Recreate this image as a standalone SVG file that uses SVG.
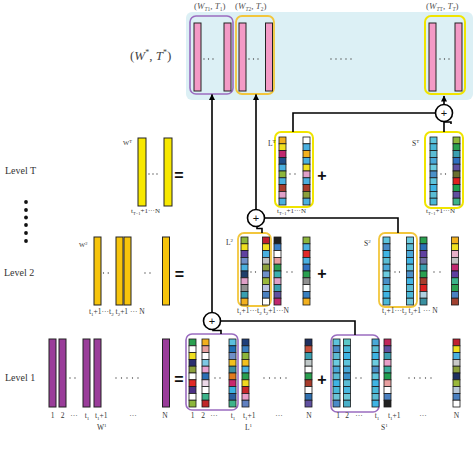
<svg xmlns="http://www.w3.org/2000/svg" xmlns:xlink="http://www.w3.org/1999/xlink" width="474" height="451" viewBox="0 0 474 451">
<style>
text{font-family:"Liberation Serif","DejaVu Serif",serif;fill:#333}
.lv{font-size:10px}
.lb{font-size:7.5px;text-anchor:middle}
.ls{font-size:7.5px}
.tl{font-size:9px;fill:#555}
.sym{font-family:"Liberation Sans","DejaVu Sans",sans-serif;font-size:16px;font-weight:bold;fill:#111;text-anchor:middle}
.pl{font-family:"Liberation Sans","DejaVu Sans",sans-serif;font-size:11px;fill:#111;text-anchor:middle}
.bp{fill:#f39ac6;stroke:#222;stroke-width:1}
.by{fill:#f7e800;stroke:#222;stroke-width:1}
.bg{fill:#f6c40c;stroke:#222;stroke-width:1}
.bu{fill:#9a3d9a;stroke:#222;stroke-width:1}
.xp{fill:none;stroke:#9a6cc0;stroke-width:1.6}
.xy{fill:none;stroke:#f0e400;stroke-width:2}
.xg{fill:none;stroke:#f2c63c;stroke-width:1.8}
.dl{stroke:#444;stroke-width:1.3;stroke-linecap:round;stroke-dasharray:0 4.5;fill:none}
.cn{fill:none;stroke:#000;stroke-width:1.6}
.ci{fill:#fff;stroke:#000;stroke-width:1.6}
</style>
<defs>
<rect id="k" width="7" height="6.8" stroke="#1a1a1a" stroke-width="0.8"/>
<marker id="ah" viewBox="0 0 10 10" refX="9" refY="5" markerWidth="8" markerHeight="6" orient="auto" markerUnits="userSpaceOnUse"><path d="M0,0 L10,5 L0,10 z" fill="#000"/></marker>
</defs>

<g id="result-panel">
<rect x="186" y="12" width="287" height="88" rx="6" fill="#dcf0f5"/>
<text x="130" y="60" style="font-size:13px;fill:#444">(<tspan font-style="italic">W</tspan><tspan font-size="8" dy="-5">*</tspan><tspan dy="5">, </tspan><tspan font-style="italic">T</tspan><tspan font-size="8" dy="-5">*</tspan><tspan dy="5">)</tspan></text>
<g id="top-1">
<rect class="xp" x="190" y="16" width="43" height="78" rx="6"/>
<rect class="bp" x="194" y="23" width="7" height="68"/>
<rect class="bp" x="224" y="23" width="7" height="68"/>
<line class="dl" x1="204" y1="59" x2="217.5" y2="59"/>
<text class="tl" x="194" y="9">(<tspan font-style="italic">W</tspan><tspan font-size="5.5" dy="2"><tspan font-style="italic">T</tspan>1</tspan><tspan dy="-2">, </tspan><tspan font-style="italic">T</tspan><tspan font-size="5.5" dy="2">1</tspan><tspan dy="-2">)</tspan></text>
</g>
<g id="top-2">
<rect class="xg" x="236" y="16" width="38" height="78" rx="6"/>
<rect class="bp" x="239" y="23" width="7" height="68"/>
<rect class="bp" x="265.5" y="23" width="7" height="68"/>
<line class="dl" x1="249" y1="59" x2="262.5" y2="59"/>
<text class="tl" x="235" y="9">(<tspan font-style="italic">W</tspan><tspan font-size="5.5" dy="2"><tspan font-style="italic">T</tspan>2</tspan><tspan dy="-2">, </tspan><tspan font-style="italic">T</tspan><tspan font-size="5.5" dy="2">2</tspan><tspan dy="-2">)</tspan></text>
</g>
<line class="dl" x1="331" y1="59" x2="356" y2="59" style="stroke-dasharray:0 5"/>
<g id="top-T">
<rect class="xy" x="425" y="16" width="40" height="78" rx="6"/>
<rect class="bp" x="429" y="23" width="7" height="68"/>
<rect class="bp" x="455" y="23" width="7" height="68"/>
<line class="dl" x1="440" y1="59" x2="453.5" y2="59"/>
<text class="tl" x="426" y="9">(<tspan font-style="italic">W</tspan><tspan font-size="5.5" dy="2"><tspan font-style="italic">T</tspan>T</tspan><tspan dy="-2">, </tspan><tspan font-style="italic">T</tspan><tspan font-size="5.5" dy="2"><tspan font-style="italic">T</tspan></tspan><tspan dy="-2">)</tspan></text>
</g>
</g>

<g id="level-labels">
<text class="lv" x="5" y="174">Level  T</text>
<text class="lv" x="4" y="276">Level  2</text>
<text class="lv" x="5" y="381">Level  1</text>
<g fill="#111"><circle cx="26" cy="202" r="1.9"/><circle cx="26" cy="210" r="1.9"/><circle cx="26" cy="217.5" r="1.9"/><circle cx="26" cy="225" r="1.9"/><circle cx="26" cy="233" r="1.9"/><circle cx="26" cy="241" r="1.9"/></g>
</g>

<g id="WT">
<rect class="by" x="138" y="138" width="8" height="68"/>
<rect class="by" x="164" y="138" width="8" height="68"/>
<line class="dl" x1="149" y1="174" x2="161" y2="174" style="stroke-dasharray:0 4"/>
<text class="sym" x="179" y="181">=</text>
<text class="ls" x="123" y="145" style="font-size:6.5px">W<tspan font-size="4.5" dy="-2.5">T</tspan></text>
<text class="ls" x="131" y="213" style="font-size:7px">t<tspan font-size="4.5" dy="1.5">T−1</tspan><tspan dy="-1.5">+1···N</tspan></text>
</g>

<g id="W2">
<rect class="bg" x="94" y="237" width="7" height="68"/>
<rect class="bg" x="116" y="237" width="7" height="68"/>
<rect class="bg" x="124" y="237" width="7" height="68"/>
<rect class="bg" x="162.5" y="237" width="7" height="68"/>
<line class="dl" x1="103.5" y1="273" x2="113" y2="273" style="stroke-dasharray:0 4.75"/>
<line class="dl" x1="145" y1="273" x2="155" y2="273" style="stroke-dasharray:0 5"/>
<text class="sym" x="179.5" y="280">=</text>
<text class="ls" x="79" y="247" style="font-size:6.5px">W<tspan font-size="4.5" dy="-2.5">2</tspan></text>
<text class="ls" x="89" y="314">t<tspan font-size="5" dy="1.5">1</tspan><tspan dy="-1.5">+1···t</tspan><tspan font-size="5" dy="1.5">2</tspan><tspan dy="-1.5"> t</tspan><tspan font-size="5" dy="1.5">2</tspan><tspan dy="-1.5">+1  ···  N</tspan></text>
</g>

<g id="W1">
<rect class="bu" x="49" y="339" width="7" height="68"/>
<rect class="bu" x="59" y="339" width="7" height="68"/>
<rect class="bu" x="83" y="339" width="7" height="68"/>
<rect class="bu" x="94" y="339" width="7" height="68"/>
<rect class="bu" x="162.5" y="339" width="7" height="68"/>
<line class="dl" x1="70" y1="378" x2="80" y2="378" style="stroke-dasharray:0 5"/>
<line class="dl" x1="116" y1="378" x2="143.5" y2="378" style="stroke-dasharray:0 5.5"/>
<text class="sym" x="179" y="385">=</text>
<text class="lb" x="52.5" y="418">1</text>
<text class="lb" x="62.5" y="418">2</text>
<text class="lb" x="74" y="418">···</text>
<text class="lb" x="87" y="418">t<tspan font-size="5" dy="1.5">1</tspan></text>
<text class="ls" x="95" y="418">t<tspan font-size="5" dy="1.5">1</tspan><tspan dy="-1.5">+1</tspan></text>
<text class="lb" x="133" y="418">···</text>
<text class="lb" x="165" y="418">N</text>
<text class="ls" x="97" y="430">W<tspan font-size="5" dy="-3">1</tspan></text>
</g>

<g id="L1">
<rect class="xp" x="186" y="334" width="52" height="76" rx="6"/>
<g transform="translate(189,339)"><use href="#k" fill="#2aa050"/><use href="#k" y="6.8" fill="#fff"/><use href="#k" y="13.6" fill="#f0e020"/><use href="#k" y="20.4" fill="#2a2f70"/><use href="#k" y="27.2" fill="#8ba03c"/><use href="#k" y="34" fill="#fff"/><use href="#k" y="40.8" fill="#e02828"/><use href="#k" y="47.6" fill="#4b2e83"/><use href="#k" y="54.4" fill="#fff"/><use href="#k" y="61.2" fill="#8db63c"/></g>
<g transform="translate(202,339)"><use href="#k" fill="#f2b01e"/><use href="#k" y="6.8" fill="#e6a0a0"/><use href="#k" y="13.6" fill="#fff"/><use href="#k" y="20.4" fill="#7ec8e3"/><use href="#k" y="27.2" fill="#e8a0d0"/><use href="#k" y="34" fill="#2a6fb5"/><use href="#k" y="40.8" fill="#ecd8e8"/><use href="#k" y="47.6" fill="#fff"/><use href="#k" y="54.4" fill="#3cb38a"/><use href="#k" y="61.2" fill="#c0282a"/></g>
<line class="dl" x1="215" y1="378" x2="225" y2="378" style="stroke-dasharray:0 5"/>
<g transform="translate(229,339)"><use href="#k" fill="#5bc0de"/><use href="#k" y="6.8" fill="#1f6fb5"/><use href="#k" y="13.6" fill="#6f8fc8"/><use href="#k" y="20.4" fill="#f2c01e"/><use href="#k" y="27.2" fill="#3b8fa0"/><use href="#k" y="34" fill="#e07a1e"/><use href="#k" y="40.8" fill="#c8286e"/><use href="#k" y="47.6" fill="#3ab0e0"/><use href="#k" y="54.4" fill="#2a5fa0"/><use href="#k" y="61.2" fill="#3cb38a"/></g>
<g transform="translate(242,339)"><use href="#k" fill="#1f3f7a"/><use href="#k" y="6.8" fill="#3b7fc0"/><use href="#k" y="13.6" fill="#8db63c"/><use href="#k" y="20.4" fill="#f2c01e"/><use href="#k" y="27.2" fill="#4ab0e0"/><use href="#k" y="34" fill="#2aa050"/><use href="#k" y="40.8" fill="#f0d820"/><use href="#k" y="47.6" fill="#c8282a"/><use href="#k" y="54.4" fill="#e8a0c8"/><use href="#k" y="61.2" fill="#6080c0"/></g>
<line class="dl" x1="264" y1="378" x2="291.5" y2="378" style="stroke-dasharray:0 5.5"/>
<g transform="translate(305,339)"><use href="#k" fill="#1f3060"/><use href="#k" y="6.8" fill="#c8503c"/><use href="#k" y="13.6" fill="#3ba0b0"/><use href="#k" y="20.4" fill="#c0c8c8"/><use href="#k" y="27.2" fill="#fff"/><use href="#k" y="34" fill="#2aa050"/><use href="#k" y="40.8" fill="#a83c2c"/><use href="#k" y="47.6" fill="#fff"/><use href="#k" y="54.4" fill="#3070b0"/><use href="#k" y="61.2" fill="#6050a0"/></g>
<text class="lb" x="192.5" y="418">1</text>
<text class="lb" x="203" y="418">2</text>
<text class="lb" x="214" y="418">···</text>
<text class="lb" x="233" y="418">t<tspan font-size="5" dy="1.5">1</tspan></text>
<text class="ls" x="243" y="418">t<tspan font-size="5" dy="1.5">1</tspan><tspan dy="-1.5">+1</tspan></text>
<text class="lb" x="279" y="418">···</text>
<text class="lb" x="309" y="418">N</text>
<text class="ls" x="245" y="430">L<tspan font-size="5" dy="-3">1</tspan></text>
<text class="sym" x="322" y="385">+</text>
</g>

<g id="S1">
<rect class="xp" x="331" y="335" width="48" height="77" rx="6"/>
<g transform="translate(333,339)"><use href="#k" fill="#5ec4dc"/><use href="#k" y="6.8" fill="#4a8cc8"/><use href="#k" y="13.6" fill="#5bbcd4"/><use href="#k" y="20.4" fill="#6ccce0"/><use href="#k" y="27.2" fill="#4aa8d8"/><use href="#k" y="34" fill="#5bbcd4"/><use href="#k" y="40.8" fill="#3fb4e4"/><use href="#k" y="47.6" fill="#4ab8d8"/><use href="#k" y="54.4" fill="#6cc4d8"/><use href="#k" y="61.2" fill="#4a8cc8"/></g>
<g transform="translate(343.5,339)"><use href="#k" fill="#5bc8c8"/><use href="#k" y="6.8" fill="#4ab8d8"/><use href="#k" y="13.6" fill="#3fb4e4"/><use href="#k" y="20.4" fill="#5ec4dc"/><use href="#k" y="27.2" fill="#4aa8d8"/><use href="#k" y="34" fill="#3a90c8"/><use href="#k" y="40.8" fill="#5bbcd4"/><use href="#k" y="47.6" fill="#4ab8e0"/><use href="#k" y="54.4" fill="#6cc8d8"/><use href="#k" y="61.2" fill="#4ab0c8"/></g>
<line class="dl" x1="356" y1="378" x2="366" y2="378" style="stroke-dasharray:0 5"/>
<g transform="translate(372,339)"><use href="#k" fill="#4aa8d8"/><use href="#k" y="6.8" fill="#5bbcd4"/><use href="#k" y="13.6" fill="#3fb4e4"/><use href="#k" y="20.4" fill="#6ccce0"/><use href="#k" y="27.2" fill="#4a90c8"/><use href="#k" y="34" fill="#5ec4dc"/><use href="#k" y="40.8" fill="#3fb4e4"/><use href="#k" y="47.6" fill="#4ab8d8"/><use href="#k" y="54.4" fill="#5bbcd4"/><use href="#k" y="61.2" fill="#3fb4e4"/></g>
<g transform="translate(384,339)"><use href="#k" fill="#c0285a"/><use href="#k" y="6.8" fill="#6050a0"/><use href="#k" y="13.6" fill="#3ba0b0"/><use href="#k" y="20.4" fill="#e8a0c8"/><use href="#k" y="27.2" fill="#3bb0a0"/><use href="#k" y="34" fill="#1fa050"/><use href="#k" y="40.8" fill="#e8a0a0"/><use href="#k" y="47.6" fill="#fff"/><use href="#k" y="54.4" fill="#4a80c0"/><use href="#k" y="61.2" fill="#222"/></g>
<line class="dl" x1="409" y1="378" x2="436.5" y2="378" style="stroke-dasharray:0 5.5"/>
<g transform="translate(453,339)"><use href="#k" fill="#c02030"/><use href="#k" y="6.8" fill="#f0e020"/><use href="#k" y="13.6" fill="#4ab0e0"/><use href="#k" y="20.4" fill="#c8c8c8"/><use href="#k" y="27.2" fill="#8ba03c"/><use href="#k" y="34" fill="#1f3060"/><use href="#k" y="40.8" fill="#9ab83c"/><use href="#k" y="47.6" fill="#b8c8d8"/><use href="#k" y="54.4" fill="#4a80c0"/><use href="#k" y="61.2" fill="#fff"/></g>
<text class="lb" x="338" y="418">1</text>
<text class="lb" x="347" y="418">2</text>
<text class="lb" x="359" y="418">···</text>
<text class="lb" x="377" y="418">t<tspan font-size="5" dy="1.5">1</tspan></text>
<text class="ls" x="388" y="418">t<tspan font-size="5" dy="1.5">1</tspan><tspan dy="-1.5">+1</tspan></text>
<text class="lb" x="423" y="418">···</text>
<text class="lb" x="456.5" y="418">N</text>
<text class="ls" x="381" y="430">S<tspan font-size="5" dy="-3">1</tspan></text>
</g>

<g id="L2">
<rect class="xg" x="238" y="233" width="33" height="73" rx="6"/>
<g transform="translate(241,237)"><use href="#k" fill="#8db63c"/><use href="#k" y="6.8" fill="#f0e020"/><use href="#k" y="13.6" fill="#6040a0"/><use href="#k" y="20.4" fill="#6f8fc8"/><use href="#k" y="27.2" fill="#4ab0e0"/><use href="#k" y="34" fill="#1f3f6a"/><use href="#k" y="40.8" fill="#e0a0c8"/><use href="#k" y="47.6" fill="#909090"/><use href="#k" y="54.4" fill="#3a9fb0"/><use href="#k" y="61.2" fill="#f2b01e"/></g>
<line class="dl" x1="251" y1="272" x2="260" y2="272"/>
<g transform="translate(262.5,237)"><use href="#k" fill="#c02030"/><use href="#k" y="6.8" fill="#f0e020"/><use href="#k" y="13.6" fill="#4ab0e0"/><use href="#k" y="20.4" fill="#c0c0c0"/><use href="#k" y="27.2" fill="#8ba03c"/><use href="#k" y="34" fill="#6f8fc8"/><use href="#k" y="40.8" fill="#9ab83c"/><use href="#k" y="47.6" fill="#b8c0e0"/><use href="#k" y="54.4" fill="#4a80c0"/><use href="#k" y="61.2" fill="#fff"/></g>
<g transform="translate(274,237)"><use href="#k" fill="#202020"/><use href="#k" y="6.8" fill="#3b80c8"/><use href="#k" y="13.6" fill="#fff"/><use href="#k" y="20.4" fill="#e8a0a0"/><use href="#k" y="27.2" fill="#2aa050"/><use href="#k" y="34" fill="#3bb0b0"/><use href="#k" y="40.8" fill="#e0a0c8"/><use href="#k" y="47.6" fill="#3ba0b0"/><use href="#k" y="54.4" fill="#6050a0"/><use href="#k" y="61.2" fill="#c0286e"/></g>
<line class="dl" x1="287" y1="272" x2="297" y2="272" style="stroke-dasharray:0 5"/>
<g transform="translate(303,237)"><use href="#k" fill="#8db63c"/><use href="#k" y="6.8" fill="#4ab0e0"/><use href="#k" y="13.6" fill="#e02828"/><use href="#k" y="20.4" fill="#4ab0e0"/><use href="#k" y="27.2" fill="#3070c0"/><use href="#k" y="34" fill="#2aa050"/><use href="#k" y="40.8" fill="#909090"/><use href="#k" y="47.6" fill="#fff"/><use href="#k" y="54.4" fill="#3a80c0"/><use href="#k" y="61.2" fill="#f2b01e"/></g>
<text class="ls" x="226" y="245">L<tspan font-size="5" dy="-3">2</tspan></text>
<text class="ls" x="237" y="313">t<tspan font-size="5" dy="1.5">1</tspan><tspan dy="-1.5">+1···t</tspan><tspan font-size="5" dy="1.5">2</tspan><tspan dy="-1.5">  t</tspan><tspan font-size="5" dy="1.5">2</tspan><tspan dy="-1.5">+1···N</tspan></text>
<text class="sym" x="322" y="279">+</text>
</g>

<g id="S2">
<rect class="xg" x="379" y="233" width="38" height="74" rx="6"/>
<g transform="translate(383,237)"><use href="#k" fill="#5ec4dc"/><use href="#k" y="6.8" fill="#4a8cc8"/><use href="#k" y="13.6" fill="#3fb4e4"/><use href="#k" y="20.4" fill="#5bbcd4"/><use href="#k" y="27.2" fill="#4aa8d8"/><use href="#k" y="34" fill="#6ccce0"/><use href="#k" y="40.8" fill="#4a90c8"/><use href="#k" y="47.6" fill="#5ec4dc"/><use href="#k" y="54.4" fill="#3fb4e4"/><use href="#k" y="61.2" fill="#4ab8d8"/></g>
<line class="dl" x1="395" y1="272" x2="404" y2="272"/>
<g transform="translate(406.5,237)"><use href="#k" fill="#6ccce0"/><use href="#k" y="6.8" fill="#5bbcd4"/><use href="#k" y="13.6" fill="#4aa8d8"/><use href="#k" y="20.4" fill="#3fb4e4"/><use href="#k" y="27.2" fill="#5ec4dc"/><use href="#k" y="34" fill="#4a90c8"/><use href="#k" y="40.8" fill="#3fb4e4"/><use href="#k" y="47.6" fill="#5bbcd4"/><use href="#k" y="54.4" fill="#4ab8d8"/><use href="#k" y="61.2" fill="#6cc4d8"/></g>
<g transform="translate(420,237)"><use href="#k" fill="#2aa050"/><use href="#k" y="6.8" fill="#2a70b5"/><use href="#k" y="13.6" fill="#6040a0"/><use href="#k" y="20.4" fill="#6f70a0"/><use href="#k" y="27.2" fill="#3a9fb0"/><use href="#k" y="34" fill="#2aa050"/><use href="#k" y="40.8" fill="#a83c2c"/><use href="#k" y="47.6" fill="#e02020"/><use href="#k" y="54.4" fill="#b0d0e0"/><use href="#k" y="61.2" fill="#3a90a0"/></g>
<line class="dl" x1="434" y1="272" x2="446" y2="272" style="stroke-dasharray:0 6"/>
<g transform="translate(451.5,237)"><use href="#k" fill="#f2b01e"/><use href="#k" y="6.8" fill="#f0e020"/><use href="#k" y="13.6" fill="#e8b0c8"/><use href="#k" y="20.4" fill="#c0c0c0"/><use href="#k" y="27.2" fill="#c0286e"/><use href="#k" y="34" fill="#6040a0"/><use href="#k" y="40.8" fill="#3cb38a"/><use href="#k" y="47.6" fill="#2aa050"/><use href="#k" y="54.4" fill="#4a80c0"/><use href="#k" y="61.2" fill="#a04030"/></g>
<text class="ls" x="364" y="246">S<tspan font-size="5" dy="-3">2</tspan></text>
<text class="ls" x="382" y="313">t<tspan font-size="5" dy="1.5">1</tspan><tspan dy="-1.5">+1···t</tspan><tspan font-size="5" dy="1.5">2</tspan><tspan dy="-1.5">  t</tspan><tspan font-size="5" dy="1.5">2</tspan><tspan dy="-1.5">+1  ···  N</tspan></text>
</g>

<g id="LT">
<rect class="xy" x="275" y="132" width="38" height="75" rx="6"/>
<g transform="translate(279,137)"><use href="#k" fill="#f2b01e"/><use href="#k" y="6.8" fill="#f0e020"/><use href="#k" y="13.6" fill="#c0286e"/><use href="#k" y="20.4" fill="#1f4f8a"/><use href="#k" y="27.2" fill="#4ab0e0"/><use href="#k" y="34" fill="#8db63c"/><use href="#k" y="40.8" fill="#4ab0e0"/><use href="#k" y="47.6" fill="#a83c2c"/><use href="#k" y="54.4" fill="#e0a0c8"/><use href="#k" y="61.2" fill="#4ab0e0"/></g>
<line class="dl" x1="290" y1="174" x2="300" y2="174" style="stroke-dasharray:0 5"/>
<g transform="translate(303,137)"><use href="#k" fill="#fff"/><use href="#k" y="6.8" fill="#4ab0e0"/><use href="#k" y="13.6" fill="#f2b01e"/><use href="#k" y="20.4" fill="#4ab0e0"/><use href="#k" y="27.2" fill="#f0e020"/><use href="#k" y="34" fill="#e0a0c8"/><use href="#k" y="40.8" fill="#4ab0e0"/><use href="#k" y="47.6" fill="#a83c2c"/><use href="#k" y="54.4" fill="#8ba03c"/><use href="#k" y="61.2" fill="#4ab0e0"/></g>
<text class="ls" x="268" y="146">L<tspan font-size="5" dy="-3">T</tspan></text>
<text class="ls" x="277" y="213" style="font-size:7px">t<tspan font-size="4.5" dy="1.5">T−1</tspan><tspan dy="-1.5">+1···N</tspan></text>
<text class="sym" x="322" y="181">+</text>
</g>

<g id="ST">
<rect class="xy" x="425" y="132" width="38" height="76" rx="6"/>
<g transform="translate(430,137)"><use href="#k" fill="#5ec4dc"/><use href="#k" y="6.8" fill="#4ab8d8"/><use href="#k" y="13.6" fill="#5bbcd4"/><use href="#k" y="20.4" fill="#4aa8d8"/><use href="#k" y="27.2" fill="#6ccce0"/><use href="#k" y="34" fill="#4a90c8"/><use href="#k" y="40.8" fill="#5ec4dc"/><use href="#k" y="47.6" fill="#3fb4e4"/><use href="#k" y="54.4" fill="#5bbcd4"/><use href="#k" y="61.2" fill="#4ab8d8"/></g>
<line class="dl" x1="441" y1="174" x2="450" y2="174"/>
<g transform="translate(453,137)"><use href="#k" fill="#8db63c"/><use href="#k" y="6.8" fill="#2aa050"/><use href="#k" y="13.6" fill="#3a9fb0"/><use href="#k" y="20.4" fill="#3070c0"/><use href="#k" y="27.2" fill="#6050a0"/><use href="#k" y="34" fill="#6a7030"/><use href="#k" y="40.8" fill="#e02020"/><use href="#k" y="47.6" fill="#1fa050"/><use href="#k" y="54.4" fill="#6050a0"/><use href="#k" y="61.2" fill="#3cb38a"/></g>
<text class="ls" x="412" y="146">S<tspan font-size="5" dy="-3">T</tspan></text>
<text class="ls" x="426" y="213" style="font-size:7px">t<tspan font-size="4.5" dy="1.5">T−1</tspan><tspan dy="-1.5">+1···N</tspan></text>
</g>

<g id="connectors">
<line class="cn" x1="212" y1="312.5" x2="212" y2="94.5" marker-end="url(#ah)"/>
<path class="cn" d="M220.5 321 H355 V335"/>
<path class="cn" d="M213 329.5 V330.5 H221 V334"/>
<line class="cn" x1="256" y1="209.5" x2="256" y2="94.5" marker-end="url(#ah)"/>
<path class="cn" d="M264.5 218 H398 V233"/>
<path class="cn" d="M257 226.5 V228.5 H262 V233"/>
<path class="cn" d="M293 132 V113 H435.5"/>
<line class="cn" x1="444" y1="104.5" x2="444" y2="96" marker-end="url(#ah)"/>
<path class="cn" d="M444 132 V121.5 M444 122 H451 V124"/>
</g>

<g id="sum-1"><circle class="ci" cx="212" cy="321" r="8.5"/><text class="pl" x="212" y="325">+</text></g>
<g id="sum-2"><circle class="ci" cx="256" cy="218" r="8.5"/><text class="pl" x="256" y="222">+</text></g>
<g id="sum-T"><circle class="ci" cx="444" cy="113" r="8.5"/><text class="pl" x="444" y="117">+</text></g>
</svg>
